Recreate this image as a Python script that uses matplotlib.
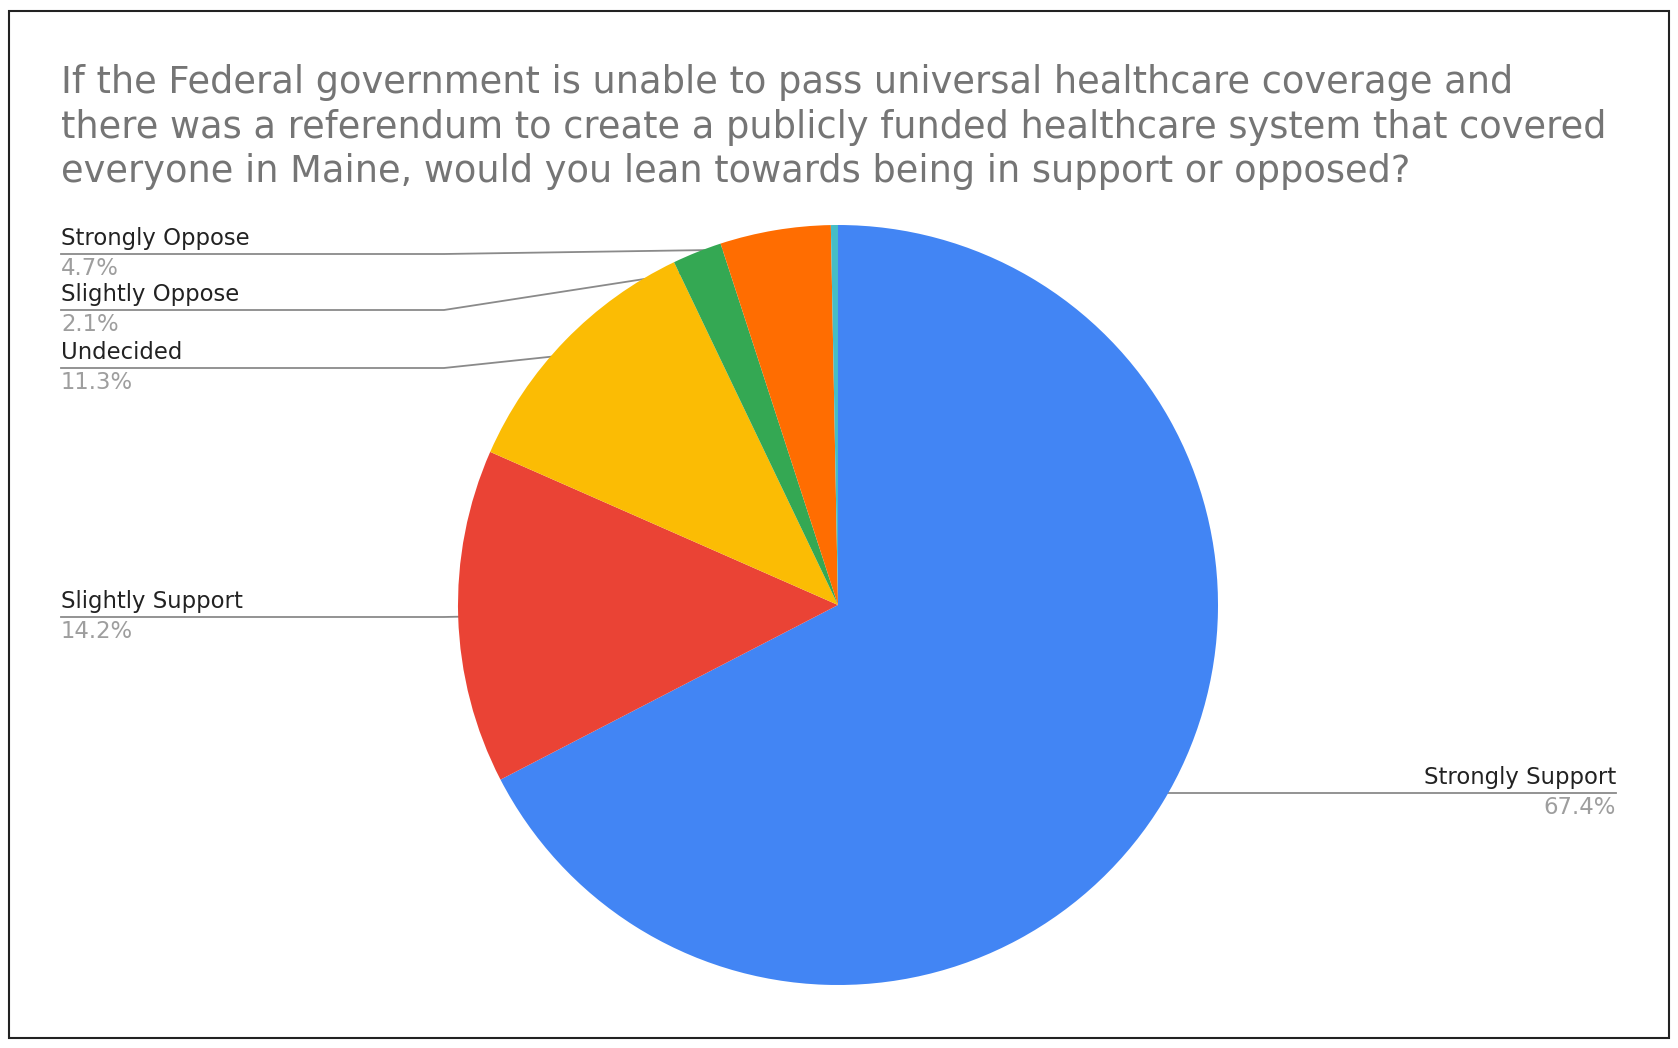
import numpy as np
import matplotlib.pyplot as plt

labels = ["Strongly Support", "Slightly Support", "Undecided", "Slightly Oppose", "Strongly Oppose", "Other"]
values = [67.4, 14.2, 11.3, 2.1, 4.7, 0.3]
colors = ['#4285F4', '#EA4335', '#FBBC04', '#34A853', '#FF6D01', '#46BDC6']

W, H = 1678, 1048
fig = plt.figure(figsize=(W / 100, H / 100), dpi=100)
ax = fig.add_axes([0, 0, 1, 1])
ax.set_xlim(0, W)
ax.set_ylim(H, 0)
ax.axis('off')

# outer border
ax.add_patch(plt.Rectangle((9, 11), 1660, 1027, fill=False, edgecolor='#222222', lw=1.5))

ax.text(61, 127, "If the Federal government is unable to pass universal healthcare coverage and\n"
        "there was a referendum to create a publicly funded healthcare system that covered\n"
        "everyone in Maine, would you lean towards being in support or opposed?",
        ha='left', va='center', fontsize=26.5, color='#757575', linespacing=1.25)

cx, cy, r = 838, 605, 380
# pie in its own axes so the data space stays simple
pax = fig.add_axes([(cx - r) / W, 1 - (cy + r) / H, 2 * r / W, 2 * r / H])
pax.pie(values, colors=colors, startangle=90, counterclock=False,
        wedgeprops=dict(linewidth=0))
pax.set_xlim(-1, 1)
pax.set_ylim(-1, 1)
pax.set_aspect('equal')

# leader points: 0.95 r along each wedge middle
cum = np.cumsum([0] + values[:-1])
mids = 90 - (cum + np.array(values) / 2) * 3.6
pts = [(cx + 0.95 * r * np.cos(np.radians(a)), cy - 0.95 * r * np.sin(np.radians(a))) for a in mids]

LC = '#8a8a8a'
FS = 16.4
left_rows = {4: 254, 3: 310, 2: 368, 1: 617}
for i, ly in left_rows.items():
    px, py = pts[i]
    ax.plot([61, 444, px], [ly, ly, py], color=LC, lw=1.3)
    ax.plot(px, py, 'o', color=LC, ms=4)
    ax.text(61, ly - 4, labels[i], ha='left', va='bottom', fontsize=FS, color='#222222')
    ax.text(61, ly + 3, f"{values[i]}%", ha='left', va='top', fontsize=FS, color='#9e9e9e')

px, py = pts[0]
ax.plot([px, 1616], [793, 793], color=LC, lw=1.3)
ax.plot(px, py, 'o', color=LC, ms=4)
ax.text(1616, 789, labels[0], ha='right', va='bottom', fontsize=FS, color='#222222')
ax.text(1616, 796, f"{values[0]}%", ha='right', va='top', fontsize=FS, color='#9e9e9e')

fig.savefig('out.png', dpi=100, facecolor='white')
